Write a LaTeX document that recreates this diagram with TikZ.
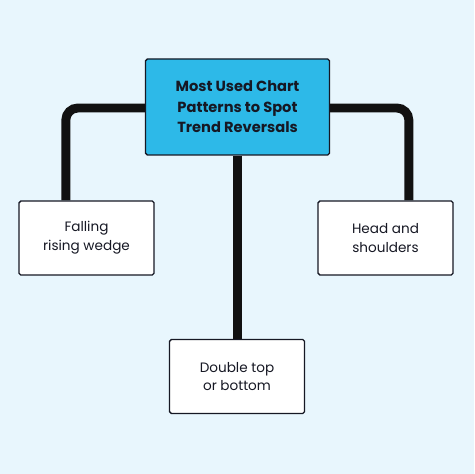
\documentclass[tikz,border=0pt]{standalone}
\usepackage{fontspec}
\setmainfont{Poppins}
\usepackage{tikz}
\usetikzlibrary{positioning, calc, backgrounds}
\usepackage{xcolor}
\definecolor{paleblue}{RGB}{232, 246, 253}
\definecolor{headcyan}{RGB}{45, 185, 232}
\definecolor{inkdark}{RGB}{22, 24, 36}
\definecolor{linedark}{RGB}{17, 17, 17}

\begin{document}
\begin{tikzpicture}[x=0.3mm, y=-0.3mm,
    headbox/.style={rectangle, draw=inkdark, line width=1.2pt, fill=headcyan, rounded corners=1.5pt,
        minimum width=55.2mm, minimum height=28.8mm, align=center, text=inkdark,
        font=\fontsize{12.5}{17.5}\selectfont\bfseries},
    leafbox/.style={rectangle, draw=inkdark, line width=1.2pt, fill=white, rounded corners=1.5pt,
        minimum width=40.5mm, minimum height=22.2mm, align=center, text=inkdark,
        font=\fontsize{11.6}{16}\selectfont},
    conn/.style={draw=linedark, line width=7.6pt, rounded corners=3.6mm}]
    \useasboundingbox (0,0) rectangle (474,474);

    % Top box
    \node[headbox] (title) at (237.5,107) {Most Used Chart\\Patterns to Spot\\Trend Reversals};

    % Pattern boxes
    \node[leafbox] (wedge) at (86.5,238) {Falling\\rising wedge};
    \node[leafbox] (headsh) at (385.5,238) {Head and\\shoulders};
    \node[leafbox] (dbltop) at (237,376.5) {Double top\\or bottom};

    % Background and connectors behind the boxes
    \begin{scope}[on background layer]
        \fill[paleblue] (0,0) rectangle (474,474);
        \draw[conn] ([yshift=-0.3mm]title.west) -| ([xshift=-6.2mm]wedge.north);
        \draw[conn] ([yshift=-0.3mm]title.east) -| ([xshift=7mm]headsh.north);
        \draw[conn] (title.south) -- (title.south |- dbltop.north);
    \end{scope}
\end{tikzpicture}
\end{document}
